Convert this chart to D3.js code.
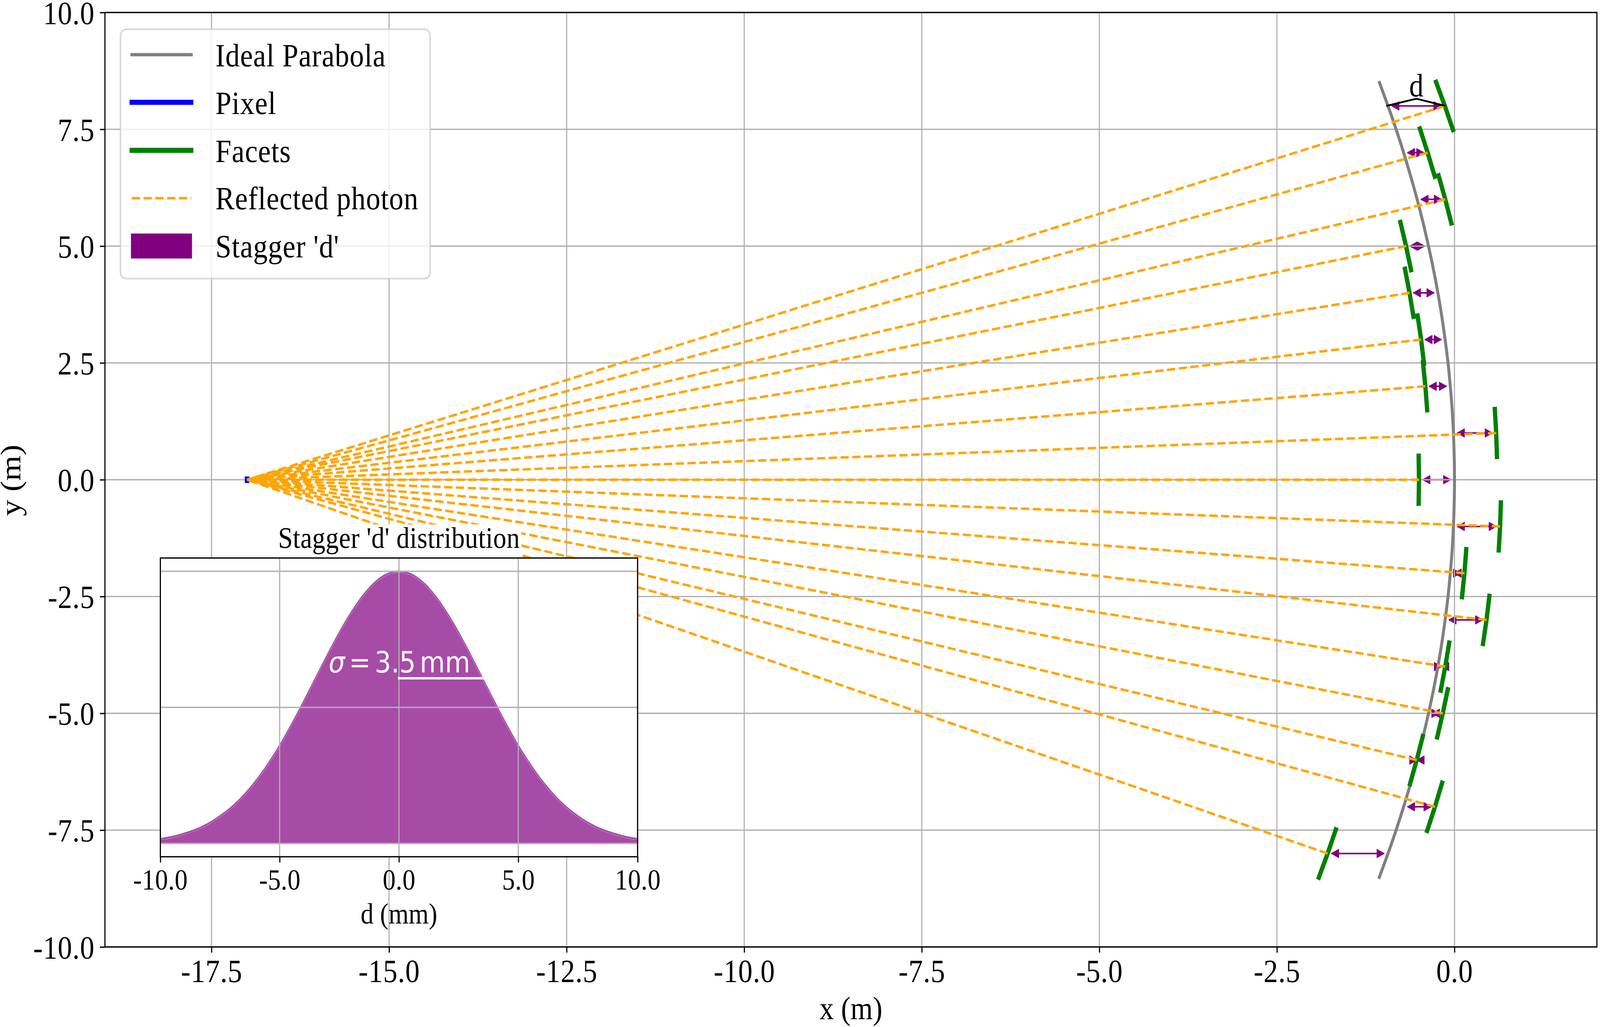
<!DOCTYPE html>
<html><head><meta charset="utf-8">
<script src="https://d3js.org/d3.v7.min.js"></script>
<style>html,body{margin:0;padding:0;background:#fff;overflow:hidden}svg{display:block;width:100vw;height:100vh}text{font-family:"Liberation Serif",serif;fill:#000;font-kerning:none;text-rendering:geometricPrecision}</style>
</head><body><svg id="c" viewBox="0 0 4650 2630" preserveAspectRatio="none"></svg>
<script>
// ---- data, metres unless noted ----
const xTicks=[-17.5,-15,-12.5,-10,-7.5,-5,-2.5,0];
const xTickLabels=["-17.5","-15.0","-12.5","-10.0","-7.5","-5.0","-2.5","0.0"];
const yTicks=[-10,-7.5,-5,-2.5,0,2.5,5,7.5,10];
const yTickLabels=["-10.0","-7.5","-5.0","-2.5","0.0","2.5","5.0","7.5","10.0"];
const parabolaY=[8.53,8,7.5,7,6.5,6,5.5,5,4.5,4,3.5,3,2.5,2,1.5,1,0.5,0,-0.5,-1,-1.5,-2,-2.5,-3,-3.5,-4,-4.5,-5,-5.5,-6,-6.5,-7,-7.5,-8,-8.54];
const parabolaX=[-1.064,-0.936,-0.822,-0.716,-0.618,-0.526,-0.442,-0.366,-0.296,-0.234,-0.179,-0.132,-0.091,-0.059,-0.033,-0.015,-0.004,0,-0.004,-0.015,-0.033,-0.059,-0.091,-0.132,-0.179,-0.234,-0.296,-0.366,-0.442,-0.526,-0.618,-0.716,-0.822,-0.936,-1.066];
const facetY=[8,7,6,5,4,3,2,1,0,-1,-2,-3,-4,-5,-6,-7,-8];
const facetX=[-0.136,-0.378,-0.130,-0.682,-0.633,-0.470,-0.410,0.587,-0.500,0.642,0.140,0.451,-0.130,-0.165,-0.532,-0.275,-1.786];
const facetTopX=[-0.271,-0.497,-0.233,-0.769,-0.703,-0.524,-0.447,0.566,-0.505,0.654,0.168,0.495,-0.069,-0.088,-0.438,-0.165,-1.660];
const facetBottomX=[-0.010,-0.268,-0.036,-0.605,-0.572,-0.426,-0.382,0.599,-0.505,0.621,0.103,0.397,-0.200,-0.251,-0.635,-0.395,-1.921];
const facetHalfHeight=0.56;
const pixelX=-17.0, pixelYRange=[-0.07,0.07];
const dMarkerX=[-0.96,-0.537,-0.126], dMarkerY=[8.0,8.155,8.0];
const legendLabels=["Ideal Parabola","Pixel","Facets","Reflected photon","Stagger 'd'"];
const insetTicks=[-10,-5,0,5,10];
const insetTickLabels=["-10.0","-5.0","0.0","5.0","10.0"];
const insetGridY=[0,0.5,1];
const staggerD=[-10,-9.5,-9,-8.5,-8,-7.5,-7,-6.5,-6,-5.5,-5,-4.5,-4,-3.5,-3,-2.5,-2,-1.5,-1,-0.5,0,0.5,1,1.5,2,2.5,3,3.5,4,4.5,5,5.5,6,6.5,7,7.5,8,8.5,9,9.5,10];
const staggerDensity=[0.017,0.025,0.037,0.052,0.073,0.101,0.135,0.178,0.230,0.291,0.360,0.438,0.521,0.607,0.693,0.775,0.849,0.912,0.960,0.990,1,0.990,0.960,0.912,0.849,0.775,0.693,0.607,0.521,0.438,0.360,0.291,0.230,0.178,0.135,0.101,0.073,0.052,0.037,0.025,0.017];
const sigmaLine={d:[0,3.5],level:0.607};

// ---- scales ----
const svg=d3.select("#c");
const L=305,R=4641,T=32,B=2425;
const x=d3.scaleLinear().domain([-19,2.005]).range([L,R]);
const y=d3.scaleLinear().domain([-10,10]).range([B,T]);
const GRID="#b0b0b0",SP=3.33;

// grid + arrows (arrows lie under the grid)
const main=svg.append("g");
const byY=new Map(parabolaY.map((v,i)=>[v,parabolaX[i]]));
const HL=21,HW=10.6,SHR=11;
const arrows=main.append("g");
facetY.forEach((fy,i)=>{
  const P=x(byY.get(fy)),F=x(facetX[i]),py=y(fy);
  const lo=Math.min(P,F),hi=Math.max(P,F),collapsed=(hi-lo)<2*SHR;
  const tipL=collapsed?(lo+hi)/2:lo+SHR, tipR=collapsed?(lo+hi)/2:hi-SHR;
  // left head points outward normally; when the path collapses both heads point inward
  const baseL=collapsed?tipL-HL:tipL+HL, baseR=collapsed?tipR+HL:tipR-HL;
  arrows.append("line").attr("x1",tipL).attr("x2",tipR).attr("y1",py).attr("y2",py).attr("stroke","#800080").attr("stroke-width",4);
  [[tipL,baseL],[tipR,baseR]].forEach(([t,b])=>arrows.append("path")
    .attr("d",`M${t},${py}L${b},${py-HW}L${b},${py+HW}Z`).attr("fill","#800080").attr("stroke","#800080").attr("stroke-width",2).attr("stroke-linejoin","round"));
});
const grid=main.append("g").attr("stroke",GRID).attr("stroke-width",SP);
xTicks.forEach(v=>grid.append("line").attr("x1",x(v)).attr("x2",x(v)).attr("y1",T).attr("y2",B));
yTicks.forEach(v=>grid.append("line").attr("x1",L).attr("x2",R).attr("y1",y(v)).attr("y2",y(v)));

// parabola
main.append("path").datum(parabolaX.map((v,i)=>[v,parabolaY[i]]))
  .attr("d",d3.line().x(d=>x(d[0])).y(d=>y(d[1])).curve(d3.curveCatmullRom)).attr("fill","none").attr("stroke","#808080").attr("stroke-width",8.6);
// pixel
main.append("line").attr("x1",x(pixelX)).attr("x2",x(pixelX)).attr("y1",y(pixelYRange[0])).attr("y2",y(pixelYRange[1])).attr("stroke","#0000ff").attr("stroke-width",13);
// facets
facetY.forEach((fy,i)=>{
  main.append("path").datum([[facetTopX[i],fy+facetHalfHeight],[facetX[i],fy],[facetBottomX[i],fy-facetHalfHeight]])
    .attr("d",d3.line().x(d=>x(d[0])).y(d=>y(d[1]))).attr("fill","none").attr("stroke","#008000").attr("stroke-width",12.5);
});
// rays (drawn from the facet towards the pixel)
facetY.forEach((fy,i)=>{
  main.append("line").attr("x1",x(facetX[i])).attr("y1",y(fy)).attr("x2",x(pixelX)).attr("y2",y(0))
    .attr("stroke","#ffa500").attr("stroke-width",6.3).attr("stroke-dasharray","24 10.23");
});
// d marker
main.append("path").datum(dMarkerX.map((v,i)=>[v,dMarkerY[i]]))
  .attr("d",d3.line().x(d=>x(d[0])).y(d=>y(d[1]))).attr("fill","none").attr("stroke","#000").attr("stroke-width",4.6);
main.append("text").attr("x",x(dMarkerX[1])).attr("y",247).attr("text-anchor","middle").attr("font-size",83.3).text("d");

// axes
function styleAxis(g,size,ls){
  g.selectAll(".domain").remove();
  g.selectAll("line").attr("stroke","#000").attr("stroke-width",SP);
  g.selectAll("text").attr("font-size",size).attr("font-family","Liberation Serif").attr("fill","#000").style("letter-spacing",ls+"px");
}
const ax=svg.append("g").attr("transform",`translate(0,${B})`)
  .call(d3.axisBottom(x).tickValues(xTicks).tickFormat((d,i)=>xTickLabels[i]).tickSize(14.6).tickPadding(0));
styleAxis(ax,83.3,1); ax.selectAll("text").attr("dy",0).attr("y",89.6);
const ay=svg.append("g").attr("transform",`translate(${L},0)`)
  .call(d3.axisLeft(y).tickValues(yTicks).tickFormat((d,i)=>yTickLabels[i]).tickSize(14.6).tickPadding(0));
styleAxis(ay,83.3,1); ay.selectAll("text").attr("x",-30).attr("dy",0).attr("y",29);
svg.append("rect").attr("x",L).attr("y",T).attr("width",R-L).attr("height",B-T).attr("fill","none").attr("stroke","#000").attr("stroke-width",SP);
svg.append("text").attr("x",2473).attr("y",2610).attr("text-anchor","middle").attr("font-size",83.3).text("x (m)");
svg.append("text").attr("transform","translate(59,1230) rotate(-90)").attr("text-anchor","middle").attr("font-size",83.3).text("y (m)");

// legend
const lg=svg.append("g");
lg.append("rect").attr("x",350).attr("y",75).attr("width",900).attr("height",638.5).attr("rx",17).attr("fill","#fff").attr("fill-opacity",0.8).attr("stroke","#cccccc").attr("stroke-opacity",0.8).attr("stroke-width",4.17);
const rowsY=[140,262,385,507.5];
const rowBase=[170,292,414.5,535.6,659];
[["#808080",8.6],["#0000ff",12.8],["#008000",12.8]].forEach((s,i)=>
  lg.append("line").attr("x1",i?376.5:379).attr("x2",i?562:560).attr("y1",rowsY[i]).attr("y2",rowsY[i]).attr("stroke",s[0]).attr("stroke-width",s[1]));
lg.append("line").attr("x1",383).attr("x2",556).attr("y1",rowsY[3]).attr("y2",rowsY[3]).attr("stroke","#ffa500").attr("stroke-width",6.3).attr("stroke-dasharray","24 10.23");
lg.append("rect").attr("x",380.6).attr("y",598).attr("width",177.4).attr("height",64).attr("fill","#800080");
legendLabels.forEach((t,i)=>lg.append("text").attr("x",626).attr("y",rowBase[i]).attr("font-size",83.3).style("letter-spacing","1.2px").text(t));

// inset
const iL=466,iR=1853,iT=1429,iB=2194;
const ix=d3.scaleLinear().domain([-10,10]).range([iL,iR]);
const iy=d3.scaleLinear().domain([0,1]).range([2160,1463]);
const ins=svg.append("g");
ins.append("rect").attr("x",804).attr("y",1343).attr("width",711).attr("height",iT-1343).attr("fill","#fff");
ins.append("text").attr("x",ix(0)).attr("y",1403).attr("text-anchor","middle").attr("font-size",76.5).style("letter-spacing","0.5px").text("Stagger 'd' distribution");
ins.append("rect").attr("x",iL).attr("y",iT).attr("width",iR-iL).attr("height",iB-iT).attr("fill","#fff");
const area=d3.area().x((d,i)=>ix(staggerD[i])).y0(iy(0)).y1(d=>iy(d)).curve(d3.curveCatmullRom);
const edge=d3.line().x((d,i)=>ix(staggerD[i])).y(d=>iy(d)).curve(d3.curveCatmullRom);
ins.append("path").datum(staggerDensity).attr("d",area).attr("fill","#800080").attr("fill-opacity",0.7);
ins.append("path").datum(staggerDensity).attr("d",edge).attr("fill","none").attr("stroke","#a64da6").attr("stroke-width",4);
ins.append("path").datum(staggerDensity).attr("d",edge).attr("transform","translate(0,3)").attr("fill","none").attr("stroke","#c88fc8").attr("stroke-width",1.2);
const ig=ins.append("g").attr("stroke",GRID).attr("stroke-width",SP);
insetTicks.forEach(v=>ig.append("line").attr("x1",ix(v)).attr("x2",ix(v)).attr("y1",iT).attr("y2",iB));
insetGridY.forEach(v=>ig.append("line").attr("x1",iL).attr("x2",iR).attr("y1",iy(v)).attr("y2",iy(v)));
ins.append("line").attr("x1",ix(sigmaLine.d[0])).attr("x2",ix(sigmaLine.d[1])).attr("y1",iy(sigmaLine.level)).attr("y2",iy(sigmaLine.level)).attr("stroke","#fff").attr("stroke-width",6).attr("stroke-linecap","square");
const st=ins.append("text").attr("x",955).attr("y",1722).style("font-family","DejaVu Sans").style("fill","#fff").style("word-spacing","-12px").attr("font-size",75);
st.append("tspan").attr("font-style","italic").text("σ");
st.append("tspan").text(" = 3.5 mm");
ins.append("rect").attr("x",iL).attr("y",iT).attr("width",iR-iL).attr("height",iB-iT).attr("fill","none").attr("stroke","#000").attr("stroke-width",SP);
const iax=ins.append("g").attr("transform",`translate(0,${iB})`)
  .call(d3.axisBottom(ix).tickValues(insetTicks).tickFormat((d,i)=>insetTickLabels[i]).tickSize(14.6).tickPadding(0));
styleAxis(iax,75,0.5); iax.selectAll("text").attr("dy",0).attr("y",84);
ins.append("text").attr("x",ix(0)).attr("y",2365).attr("text-anchor","middle").attr("font-size",75).text("d (mm)");
</script></body></html>
